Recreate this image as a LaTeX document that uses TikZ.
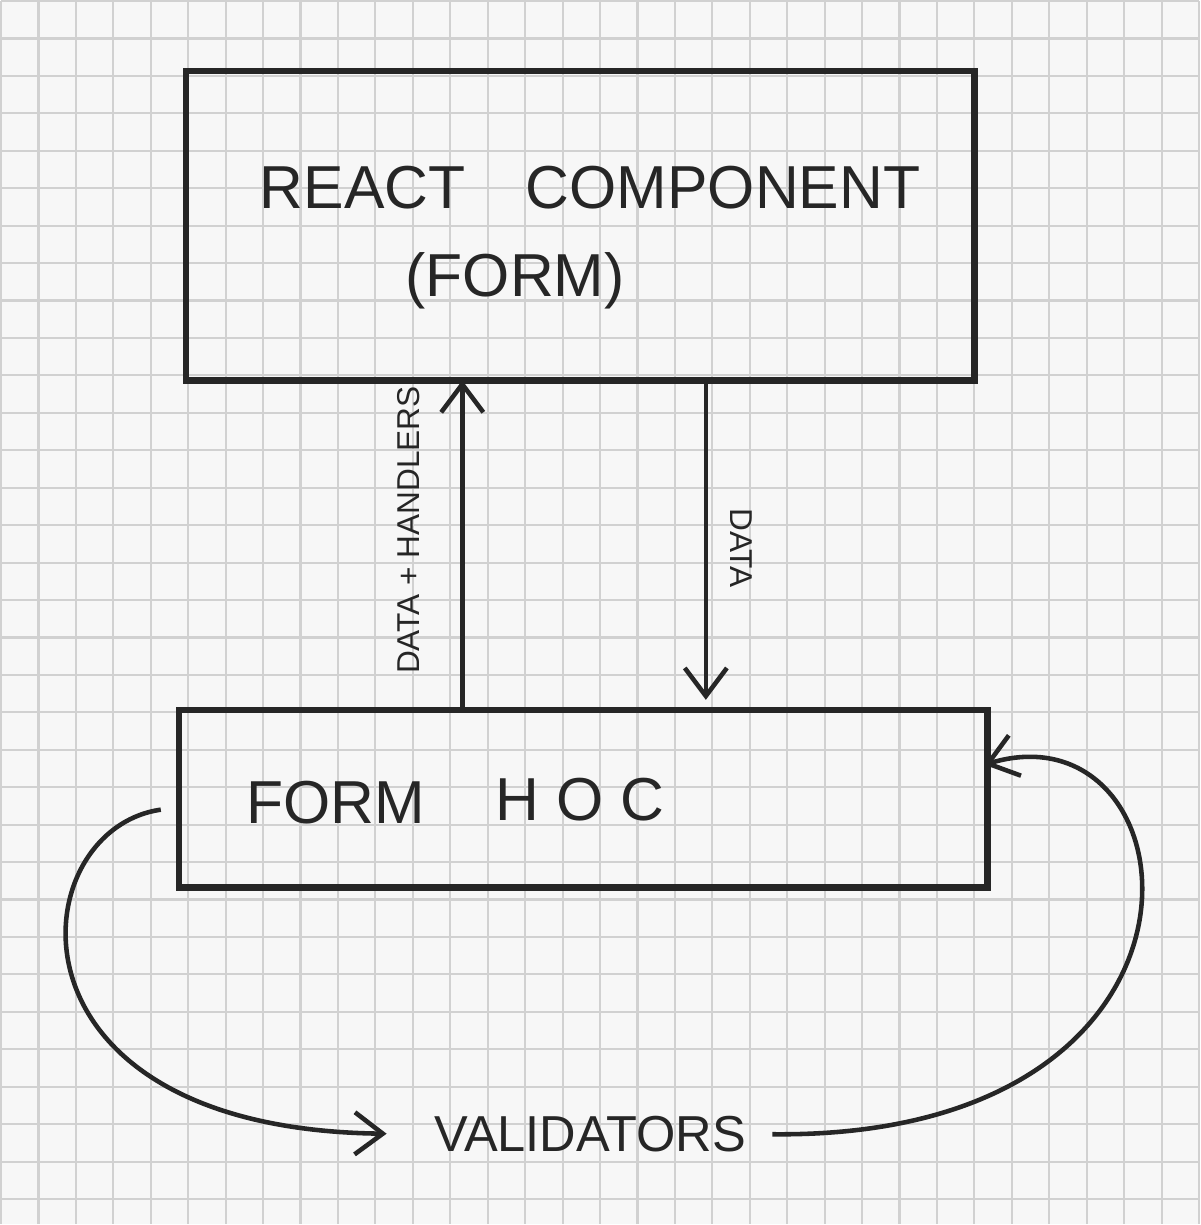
\documentclass[tikz,border=0pt]{standalone}
\usepackage{fontspec}
\setmainfont{Liberation Sans}
\usetikzlibrary{arrows.meta}
\begin{document}
\begin{tikzpicture}[x=0.01cm,y=-0.01cm,
  box/.style={draw=black!85,line width=1.8pt},
  conn/.style={draw=black!85,line width=1.3pt,-{Straight Barb[length=8pt,width=12pt]}},
  lbl/.style={font=\LARGE,text=black!85},
  slbl/.style={font=\small,text=black!85}]
\fill[white!94!gray] (0,0) rectangle (1200,1225);
\foreach \i in {0,...,32}{
  \draw[black!18,line width=0.6pt] (\i*37.5,0) -- (\i*37.5,1225);
  \draw[black!18,line width=0.6pt] (0,\i*37.5) -- (1200,\i*37.5);}
\useasboundingbox (0,0) rectangle (1200,1225);
\draw[box] (185,70) rectangle (975,380);
\draw[box] (178,710) rectangle (988,888);
\coordinate (rcUp) at (462,380);
\coordinate (hocUp) at (462,710);
\coordinate (rcDn) at (706,380);
\coordinate (hocDn) at (706,700);
\draw[conn] (hocUp) -- (rcUp);
\draw[conn] (rcDn) -- (hocDn);
\node[slbl,rotate=90] (dh) at (408,530) {DATA + HANDLERS};
\node[slbl,rotate=-90] (d) at (742,548) {DATA};
\node[lbl] (rc) at (590,187) {REACT\quad COMPONENT};
\node[lbl] (rf) at (515,280) {(FORM)};
\node[lbl] (hf) at (335,803) {FORM};
\node[lbl] (hh) at (580,800) {H O C};
\node[font=\Large,text=black!85] (val) at (590,1135) {VALIDATORS};
\coordinate (l0) at (160,810);
\coordinate (r1) at (985,765);
\draw[conn,shorten >=10pt] (l0) .. controls (20,830) and (-10,1130) .. (val.west);
\draw[conn,shorten <=4pt] (val.east) .. controls (1250,1140) and (1200,700) .. (r1);
\end{tikzpicture}
\end{document}
